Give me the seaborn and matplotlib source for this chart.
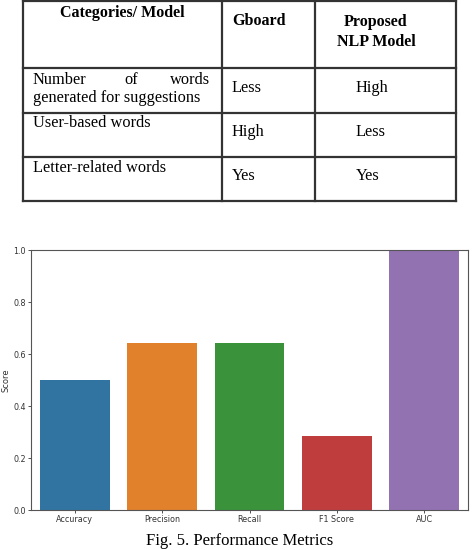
import matplotlib
matplotlib.use('Agg')
import matplotlib.pyplot as plt
import seaborn as sns
import pandas as pd

# --- data ---
metrics = ['Accuracy', 'Precision', 'Recall', 'F1 Score', 'AUC']
scores = [0.5, 0.6429, 0.6429, 0.2857, 1.0]

col_headers = ['Categories/ Model', 'Gboard', 'Proposed\nNLP Model']
row_labels = ['Number of words\ngenerated for suggestions', 'User-based words', 'Letter-related words']
gboard_vals = ['Less', 'High', 'Yes']
nlp_vals = ['High', 'Less', 'Yes']

serif = ['Liberation Serif', 'DejaVu Serif']
W, H = 474, 550
fig = plt.figure(figsize=(W / 100, H / 100), dpi=100)

# --- table on top (pixel-coordinate overlay) ---
tab = fig.add_axes([0, 0, 1, 1])
tab.set_xlim(0, W)
tab.set_ylim(H, 0)
tab.axis('off')
line_kw = dict(color='#333333', lw=1.6)
xs = [23, 222, 315, 456]
ys = [1, 68, 113, 157, 201]
for y in ys:
    tab.plot([xs[0], xs[-1]], [y, y], **line_kw)
for x in xs:
    tab.plot([x, x], [ys[0], ys[-1]], **line_kw)

hfs = 11.5
fs = 11.8
tab.text(122, 13, col_headers[0], ha='center', va='center', fontsize=hfs, fontweight='bold', family=serif)
tab.text(232, 21, col_headers[1], ha='left', va='center', fontsize=hfs, fontweight='bold', family=serif)
tab.text(376, 32, col_headers[2], ha='center', va='center', fontsize=hfs, fontweight='bold',
         family=serif, linespacing=1.4)

# first row label is justified across the cell
first, second = row_labels[0].split('\n')
w1 = first.split()
tab.text(33, 80, w1[0], ha='left', va='center', fontsize=fs, family=serif)
tab.text(131, 80, w1[1], ha='center', va='center', fontsize=fs, family=serif)
tab.text(210, 80, w1[2], ha='right', va='center', fontsize=fs, family=serif)
tab.text(33, 98, second, ha='left', va='center', fontsize=fs, family=serif)
tab.text(33, 123, row_labels[1], ha='left', va='center', fontsize=fs, family=serif)
tab.text(33, 168, row_labels[2], ha='left', va='center', fontsize=fs, family=serif)

for yy, g, n in zip([88, 132, 176], gboard_vals, nlp_vals):
    tab.text(232, yy, g, ha='left', va='center', fontsize=fs, family=serif)
    tab.text(356, yy, n, ha='left', va='center', fontsize=fs, family=serif)

# --- bar chart ---
df = pd.DataFrame({'Metric': metrics, 'Score': scores})
ax = fig.add_axes([31 / W, 1 - 510 / H, (468 - 31) / W, (510 - 250) / H])
sns.barplot(data=df, x='Metric', y='Score', hue='Metric', palette='tab10', legend=False, ax=ax)
ax.set_ylim(0, 1.0)
ax.set_yticks([0.0, 0.2, 0.4, 0.6, 0.8, 1.0])
ax.set_xlabel('')
ax.set_ylabel('Score', fontsize=6, color='#333333')
ax.yaxis.set_label_coords(-0.046, 0.5)
ax.tick_params(labelsize=5.8, colors='#333333', length=2, width=0.6, pad=1.5)
for s in ax.spines.values():
    s.set_color('#555555')
    s.set_linewidth(0.8)

fig.text(240 / W, 1 - 541 / H, 'Fig. 5. Performance Metrics', ha='center', va='center',
         fontsize=12, family=serif)

plt.savefig('out.png', dpi=100)
plt.close()
